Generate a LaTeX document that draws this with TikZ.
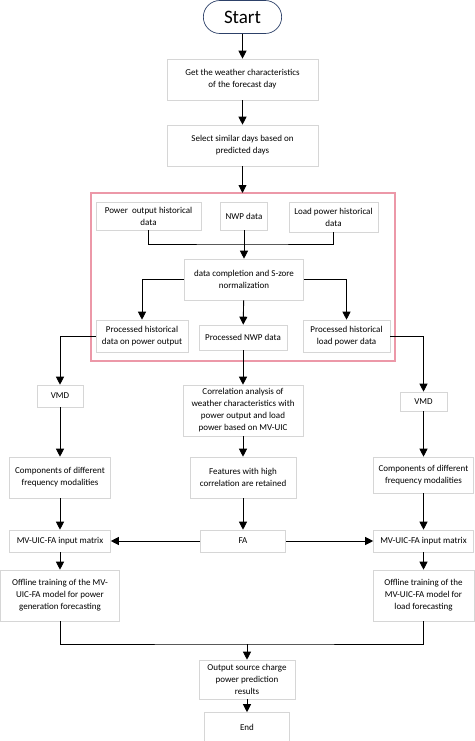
\documentclass[tikz,border=0pt]{standalone}
\usepackage{fontspec}
\setmainfont{Carlito}
\usetikzlibrary{arrows.meta,shapes.misc}
\definecolor{framepink}{RGB}{236,152,168}
\definecolor{startblue}{RGB}{45,65,105}
\tikzset{
  box/.style={draw=black!16, line width=0.6pt, fill=white, align=center,
    inner sep=1pt, font=\fontsize{9}{12}\selectfont},
  line/.style={line width=0.9pt},
  arr/.style={line, -{Triangle[length=8pt,width=8pt]}}
}
\begin{document}
\begin{tikzpicture}[x=1pt,y=-1pt]
    \useasboundingbox (0,0) rectangle (474,741);

    % Frame
    \draw[framepink, line width=1.2pt] (91,193) rectangle (395,361);
    \coordinate (frametop) at (243,193);

    % Nodes
    \node[draw=startblue, line width=0.7pt, rounded rectangle, minimum width=85, minimum height=33,
      font=\fontsize{19}{22}\selectfont] (start) at (242.5,17) {Start};
    \node[box, minimum width=151, minimum height=41] (get) at (242.5,79.5) {Get the weather characteristics\\of the forecast day};
    \node[box, minimum width=151, minimum height=41] (select) at (242.5,145.5) {Select similar days based on\\predicted days};

    \node[box, minimum width=105, minimum height=28] (powhist) at (148.5,216) {Power\ \ output historical\\data};
    \node[box, minimum width=47, minimum height=28] (nwp) at (244,216) {NWP data};
    \node[box, minimum width=89, minimum height=30] (loadhist) at (333.5,217) {Load power historical\\data};
    \node[box, minimum width=119, minimum height=41] (norm) at (244,279.5) {data completion and S-zore\\normalization};
    \node[box, minimum width=92, minimum height=32] (prochist) at (142,336) {Processed historical\\data on power output};
    \node[box, minimum width=88, minimum height=25] (procnwp) at (243,337.5) {Processed NWP data};
    \node[box, minimum width=87, minimum height=32] (procload) at (346.5,336) {Processed historical\\load power data};

    \node[box, minimum width=46, minimum height=22] (vmdL) at (60,396) {VMD};
    \node[box, minimum width=120, minimum height=51] (corr) at (243,410.5) {Correlation analysis of\\weather characteristics with\\power output and load\\power based on MV-UIC};
    \node[box, minimum width=47, minimum height=19] (vmdR) at (423.5,401.5) {VMD};

    \node[box, minimum width=101, minimum height=41] (compL) at (60,477.5) {Components of different\\frequency modalities};
    \node[box, minimum width=106, minimum height=41] (feat) at (243,477.5) {Features with high\\correlation are retained};
    \node[box, minimum width=100, minimum height=36] (compR) at (423.5,475) {Components of different\\frequency modalities};

    \node[box, minimum width=101, minimum height=22] (mvL) at (60,541) {MV-UIC-FA input matrix};
    \node[box, minimum width=85, minimum height=22] (fa) at (243,541) {FA};
    \node[box, minimum width=100, minimum height=22] (mvR) at (423.5,541) {MV-UIC-FA input matrix};

    \node[box, minimum width=119, minimum height=51] (offL) at (60,595.5) {Offline training of the MV-\\UIC-FA model for power\\generation forecasting};
    \node[box, minimum width=101, minimum height=51] (offR) at (423.5,595.5) {Offline training of the\\MV-UIC-FA model for\\load forecasting};

    \node[box, minimum width=96, minimum height=39] (out) at (247,679.5) {Output source charge\\power prediction\\results};
    \node[box, minimum width=85, minimum height=29] (end) at (247,727) {End};

    \coordinate (join) at (244,244);
    \coordinate (merge) at (247,644);

    % Connection
    \draw[arr] (start) -- (get);
    \draw[arr] (get) -- (select);
    \draw[arr] (select) -- (select |- frametop);
    \draw[line] (powhist.south) |- (join) -| (loadhist.south);
    \draw[arr] (nwp) -- (norm);
    \draw[arr] (norm.west) -| (prochist.north);
    \draw[arr] (norm) -- (procnwp);
    \draw[arr] (norm.east) -| (procload.north);
    \draw[arr] (prochist.west) -| (vmdL.north);
    \draw[arr] (procload.east) -| (vmdR.north);
    \draw[arr] (procnwp) -- (corr);
    \draw[arr] (vmdL) -- (compL);
    \draw[arr] (corr) -- (feat);
    \draw[arr] (vmdR) -- (compR);
    \draw[arr] (compL) -- (mvL);
    \draw[arr] (feat) -- (fa);
    \draw[arr] (compR) -- (mvR);
    \draw[arr] (fa) -- (mvL);
    \draw[arr] (fa) -- (mvR);
    \draw[arr] (mvL) -- (offL);
    \draw[arr] (mvR) -- (offR);
    \draw[line] (offL.south) |- (merge) -| (offR.south);
    \draw[arr] (merge) -- (out);
    \draw[arr] (out) -- (end);
  \end{tikzpicture}
\end{document}
